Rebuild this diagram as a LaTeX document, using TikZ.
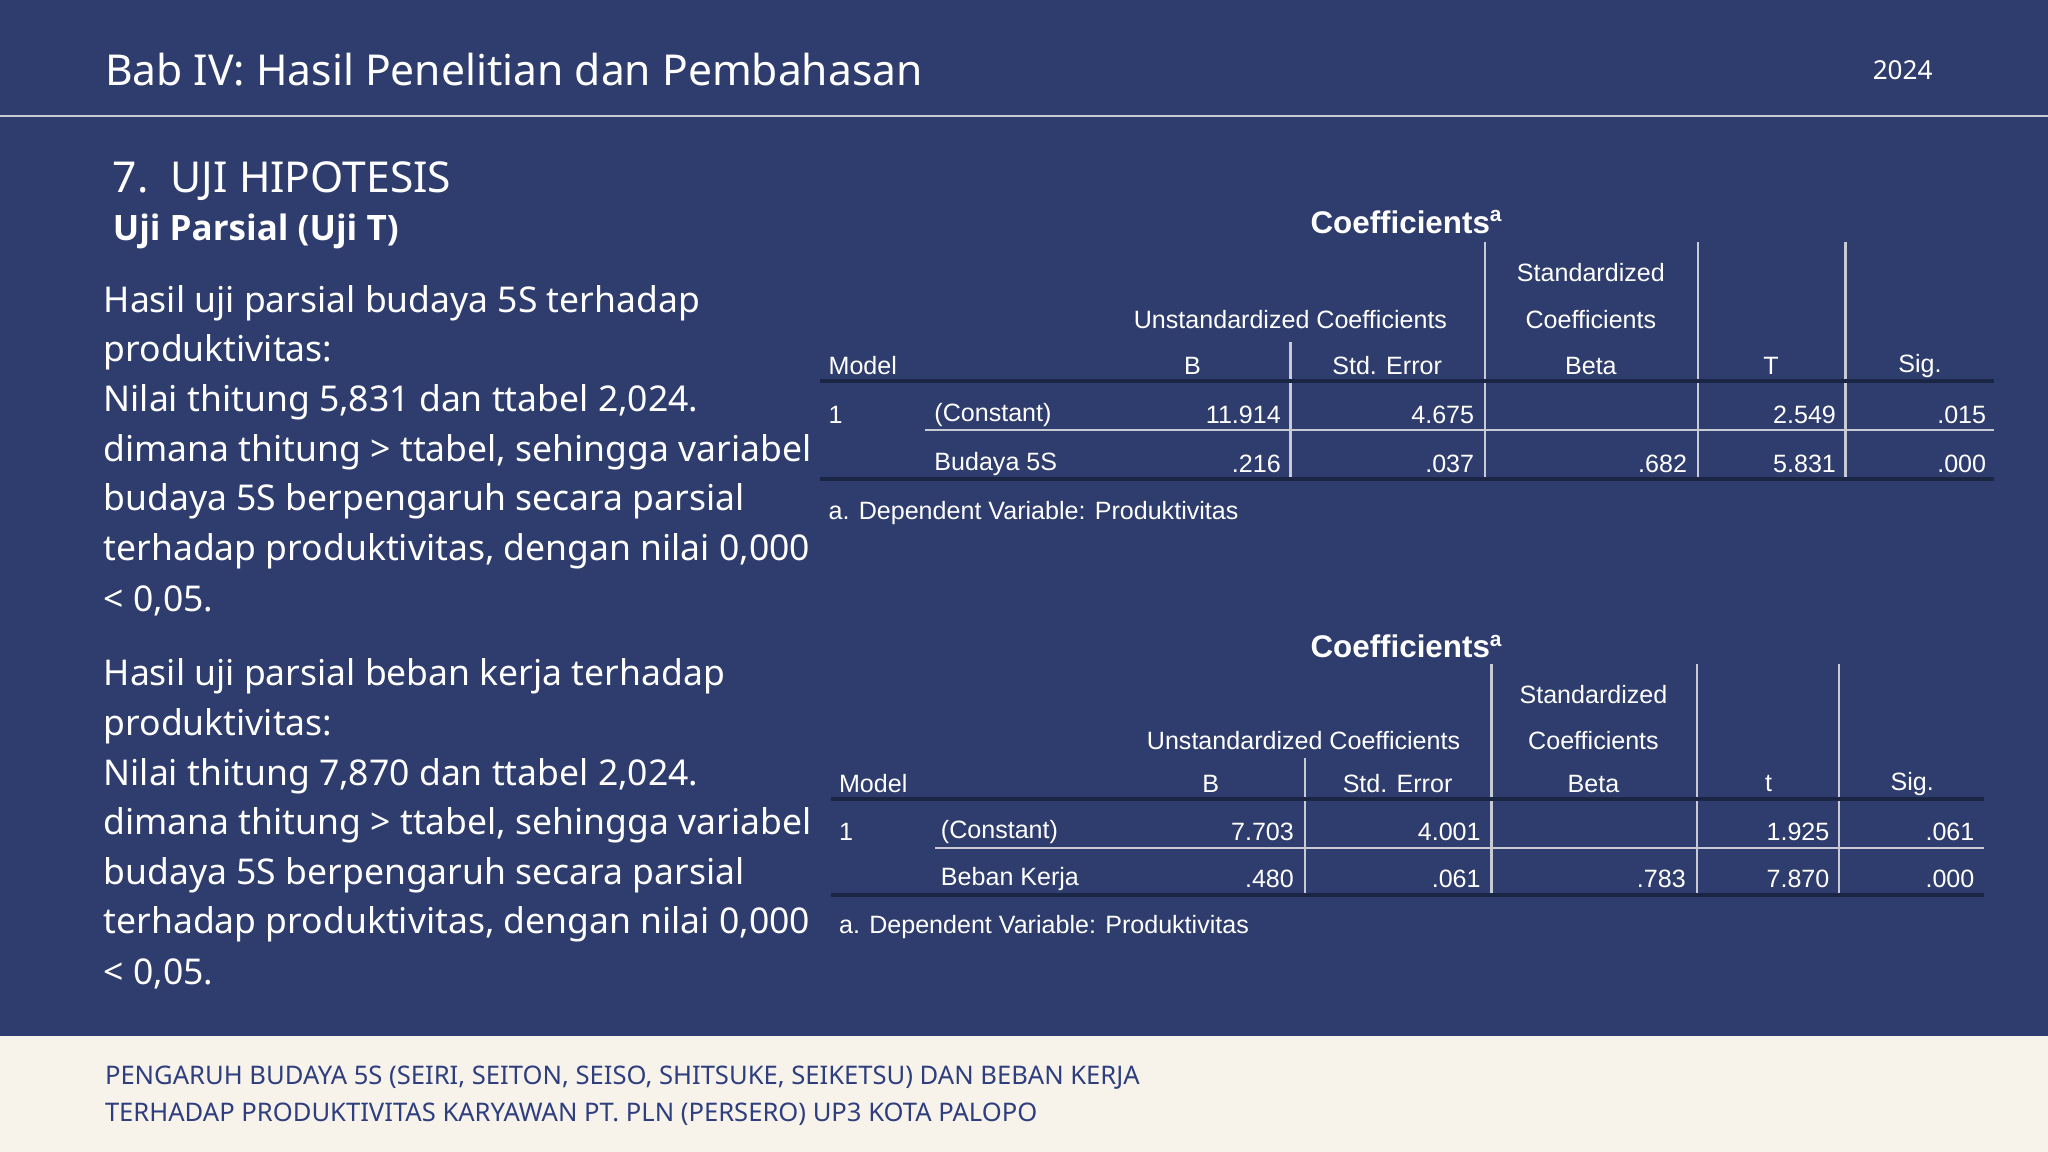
\documentclass[tikz,border=0pt]{standalone}
\usepackage{fontspec}
\setmainfont{Noto Sans}
\newfontfamily\subfont{Open Sans}
\newfontfamily\tabfont{Liberation Sans}
\definecolor{bg}{HTML}{2E3D6D}
\definecolor{cream}{HTML}{F7F3EA}
\definecolor{foot}{HTML}{2E3E7E}
\definecolor{darkline}{HTML}{1B2544}
\definecolor{lightline}{HTML}{C8CBD3}
\begin{document}
\begin{tikzpicture}[x=0.5pt,y=-0.5pt,
  txt/.style={text=white,inner sep=0pt},
  body/.style={txt,anchor=west,font=\fontsize{13.6}{19}\selectfont},
  tb/.style={txt,font=\tabfont\fontsize{9.6}{11}\selectfont},
  tw/.style={tb,anchor=west},
  te/.style={tb,anchor=east},
  ttl/.style={txt,font=\tabfont\bfseries\fontsize{12}{14}\selectfont},
  dl/.style={draw=darkline,line width=1.5pt},
  ll/.style={draw=lightline,line width=0.9pt},
  vl/.style={draw=lightline,line width=0.9pt}]
\fill[bg] (0,0) rectangle (1568,793);
\fill[cream] (0,793) rectangle (1568,882);
\useasboundingbox (0,0) rectangle (1568,882);
% header
\node[txt,anchor=west,font=\fontsize{16.3}{20}\selectfont] (hdr) at (80,53) {Bab IV: Hasil Penelitian dan Pembahasan};
\node[txt,anchor=east,font=\fontsize{10}{12}\selectfont] (yr) at (1480,54) {2024};
\draw[draw=lightline,line width=0.6pt] (0,89) -- (1568,89);
\node[txt,anchor=west,font=\fontsize{16.3}{20}\selectfont] (sec) at (86,139) {7.\ \ UJI HIPOTESIS};
\node[txt,anchor=west,font=\subfont\bfseries\fontsize{13.4}{17}\selectfont] (sub) at (86,177) {Uji Parsial (Uji T)};
% body text
\foreach \t [count=\i] in {Hasil uji parsial budaya 5S terhadap,produktivitas:,Nilai thitung 5{,}831 dan ttabel 2{,}024.,dimana thitung > ttabel{,} sehingga variabel,budaya 5S berpengaruh secara parsial,terhadap produktivitas{,} dengan nilai 0{,}000,< 0{,}05.}
  \node[body] (pa\i) at (79,232+38*\i-38) {\t};
\foreach \t [count=\i] in {Hasil uji parsial beban kerja terhadap,produktivitas:,Nilai thitung 7{,}870 dan ttabel 2{,}024.,dimana thitung > ttabel{,} sehingga variabel,budaya 5S berpengaruh secara parsial,terhadap produktivitas{,} dengan nilai 0{,}000,< 0{,}05.}
  \node[body] (pb\i) at (79,518+38*\i-38) {\t};
% table 1
\node[ttl] (t1) at (1077,170) {Coefficients\textsuperscript{a}};
\draw[vl] (988,262) -- (988,367);
\draw[vl] (1137,185) -- (1137,367);
\draw[vl] (1300,185) -- (1300,367);
\draw[vl] (1413,185) -- (1413,367);
\draw[dl] (628,292) -- (1527,292);
\draw[ll] (708,329) -- (1527,329);
\draw[dl] (628,367) -- (1527,367);
\node[tb] (a1) at (1218,209) {Standardized};
\node[tb] (a2) at (1218,245) {Coefficients};
\node[tb] (a3) at (988,245) {Unstandardized Coefficients};
\node[tw] (a4) at (634,280) {Model};
\node[tb] (a5) at (913,280) {B};
\node[tb] (a6) at (1062,280) {Std. Error};
\node[tb] (a7) at (1218,280) {Beta};
\node[tb] (a8) at (1356,280) {T};
\node[tb] (a9) at (1470,280) {Sig.};
\node[tw] at (634,318) {1};
\node[tw] at (715,318) {(Constant)};
\node[te] at (981,318) {11.914};
\node[te] at (1129,318) {4.675};
\node[te] at (1406,318) {2.549};
\node[te] at (1521,318) {.015};
\node[tw] at (715,355) {Budaya 5S};
\node[te] at (981,355) {.216};
\node[te] at (1129,355) {.037};
\node[te] at (1292,355) {.682};
\node[te] at (1406,355) {5.831};
\node[te] at (1521,355) {.000};
\node[tw] (f1) at (634,393) {a. Dependent Variable: Produktivitas};
% table 2
\node[ttl] (t2) at (1077,495) {Coefficients\textsuperscript{a}};
\draw[vl] (999,580) -- (999,685);
\draw[vl] (1142,508) -- (1142,685);
\draw[vl] (1299,508) -- (1299,685);
\draw[vl] (1408,508) -- (1408,685);
\draw[dl] (636,612) -- (1519,612);
\draw[ll] (716,649) -- (1519,649);
\draw[dl] (636,685) -- (1519,685);
\node[tb] at (1220,532) {Standardized};
\node[tb] at (1220,567) {Coefficients};
\node[tb] at (998,567) {Unstandardized Coefficients};
\node[tw] at (642,600) {Model};
\node[tb] at (927,600) {B};
\node[tb] at (1070,600) {Std. Error};
\node[tb] at (1220,600) {Beta};
\node[tb] at (1354,600) {t};
\node[tb] at (1464,600) {Sig.};
\node[tw] at (642,637) {1};
\node[tw] at (720,637) {(Constant)};
\node[te] at (991,637) {7.703};
\node[te] at (1134,637) {4.001};
\node[te] at (1401,637) {1.925};
\node[te] at (1512,637) {.061};
\node[tw] at (720,673) {Beban Kerja};
\node[te] at (991,673) {.480};
\node[te] at (1134,673) {.061};
\node[te] at (1291,673) {.783};
\node[te] at (1401,673) {7.870};
\node[te] at (1512,673) {.000};
\node[tw] (f2) at (642,710) {a. Dependent Variable: Produktivitas};
% footer
\node[anchor=west,inner sep=0pt,text=foot,font=\fontsize{9.8}{12}\selectfont] (ft1) at (80,825) {PENGARUH BUDAYA 5S (SEIRI, SEITON, SEISO, SHITSUKE, SEIKETSU) DAN BEBAN KERJA};
\node[anchor=west,inner sep=0pt,text=foot,font=\fontsize{9.8}{12}\selectfont] (ft2) at (80,853) {TERHADAP PRODUKTIVITAS KARYAWAN PT. PLN (PERSERO) UP3 KOTA PALOPO};
\end{tikzpicture}
\end{document}
